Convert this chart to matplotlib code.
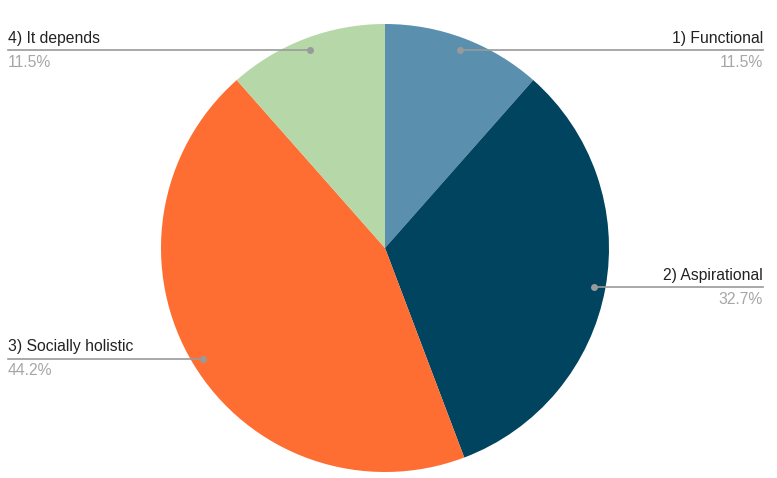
import numpy as np
import matplotlib.pyplot as plt

plt.rcParams['font.family'] = ['Liberation Sans', 'DejaVu Sans']

labels = ["1) Functional", "2) Aspirational", "3) Socially holistic", "4) It depends"]
values = [11.5, 32.7, 44.2, 11.5]
colors = ["#5b8fae", "#01445f", "#fe6d31", "#b6d7a8"]

W, H = 777, 478
cx, cy, R = 385, 248, 224

fig = plt.figure(figsize=(W / 100, H / 100), dpi=100)
ax = fig.add_axes([(cx - R) / W, (H - cy - R) / H, 2 * R / W, 2 * R / H])
ax.pie(values, colors=colors, startangle=90, counterclock=False,
       radius=1, wedgeprops=dict(linewidth=0))
ax.set_xlim(-1, 1)
ax.set_ylim(-1, 1)
ax.set_aspect("equal")
ax.axis("off")

# label lines go out to the chart edges
left_x = (8 - cx) / R
right_x = (763 - cx) / R

total = sum(values)
cum = 0
for lab, v in zip(labels, values):
    mid = (cum + v / 2) / total * 360
    cum += v
    ang = np.deg2rad(90 - mid)
    dx, dy = 0.95 * np.cos(ang), 0.95 * np.sin(ang) - 0.005
    if dx >= 0:
        ex, ha = right_x, "right"
    else:
        ex, ha = left_x, "left"
    ax.plot([dx, ex], [dy, dy], color="#9a9a9a", lw=1.2, clip_on=False, zorder=5)
    ax.plot(dx, dy, "o", ms=4, color="#9a9a9a", clip_on=False, zorder=6)
    ax.text(ex, dy + 0.02, lab, ha=ha, va="bottom", fontsize=11.3, color="#222222")
    ax.text(ex, dy - 0.02, f"{v:.1f}%", ha=ha, va="top", fontsize=11.3, color="#a6a6a6")

fig.savefig("out.png", dpi=100)
